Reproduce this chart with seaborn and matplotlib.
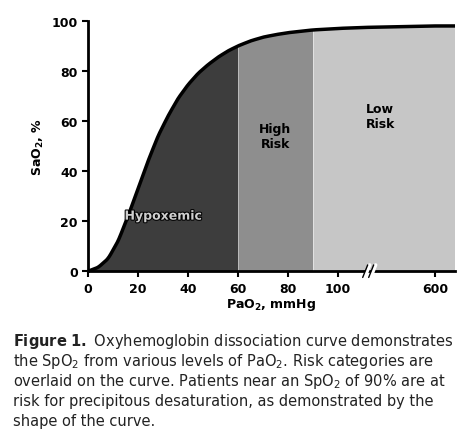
import numpy as np
import pandas as pd
import matplotlib
matplotlib.use("Agg")
import matplotlib.pyplot as plt
import matplotlib.patheffects as pe
import seaborn as sns

pao2 = [0, 4, 8, 12, 16, 20, 24, 28, 32, 36, 40, 44, 48, 52, 56, 60, 65, 70, 75, 80, 90, 100, 110, 600]
sao2 = [0, 1.5, 5, 12, 22, 33, 44, 54, 62, 69, 74.5, 79, 82.5, 85.5, 88, 90, 92, 93.5, 94.5, 95.3, 96.4, 97, 97.4, 98]
tick_values = [0, 20, 40, 60, 80, 100, 600]
regions = [("Hypoxemic", 0, 60, "#3d3d3d"), ("High\nRisk", 60, 90, "#8e8e8e"), ("Low\nRisk", 90, 600, "#c6c6c6")]

def pos(v):
    v = np.asarray(v, dtype=float)
    return np.where(v <= 110, v, 110 + (v - 110) * (29.0 / 490.0))

sns.set_style("ticks")
plt.rcParams['font.family'] = ['DejaVu Sans']
plt.rcParams['xtick.color'] = 'black'
plt.rcParams['ytick.color'] = 'black'
fig = plt.figure(figsize=(4.74, 4.39), dpi=100)
ax = fig.add_axes([0.186, 0.38, 0.774, 0.57])

p = pos(pao2)
dense_v = np.concatenate([np.linspace(0, 110, 500), np.linspace(110, 600, 100)])
dense_p = pos(dense_v)
dense_s = np.interp(dense_p, p, sao2)
# light smoothing
k = np.ones(9) / 9
sm = np.convolve(np.pad(dense_s, 4, mode="edge"), k, mode="valid")
sm[:6] = dense_s[:6]
dense_s = sm
for name, a, b, c in regions:
    m = (dense_p >= pos(a)) & (dense_p <= pos(b))
    ax.fill_between(dense_p[m], 0, dense_s[m], color=c, lw=0)
ax.fill_between([pos(600), 147], 0, 98, color="#c6c6c6", lw=0)
sns.lineplot(x=np.append(dense_p, 147), y=np.append(dense_s, 98), ax=ax, color="black", lw=2.5)

ax.text(30, 22, "Hypoxemic", ha="center", va="center", fontsize=9, fontweight="bold", color="#cfcfcf",
        path_effects=[pe.withStroke(linewidth=1.5, foreground="black")])
ax.text(75, 54, "High\nRisk", ha="center", va="center", fontsize=9, fontweight="bold", color="black")
ax.text(117, 62, "Low\nRisk", ha="center", va="center", fontsize=9, fontweight="bold", color="black")

ax.set_xlim(0, 147)
ax.set_ylim(0, 100)
ax.set_xticks(pos(tick_values))
ax.set_xticklabels([str(t) for t in tick_values], fontweight="bold", fontsize=9)
ax.set_yticks([0, 20, 40, 60, 80, 100])
ax.set_yticklabels(["0", "20", "40", "60", "80", "100"], fontweight="bold", fontsize=9)
for s in ["top", "right"]:
    ax.spines[s].set_visible(False)
for s in ["left", "bottom"]:
    ax.spines[s].set_linewidth(2)
    ax.spines[s].set_color("black")
ax.tick_params(width=1.5, length=4)
ax.set_xlabel(r"PaO$_\mathbf{2}$, mmHg", fontweight="bold", fontsize=9, labelpad=1, color="black")
ax.set_ylabel(r"SaO$_\mathbf{2}$, %", fontweight="bold", fontsize=9, color="black")
for dx in (-1.2, 1.2):
    ax.plot([113 + dx - 1, 113 + dx + 1], [-2.5, 2.5], color="white", lw=2.5, clip_on=False, zorder=5)
    ax.plot([113 + dx - 1.8, 113 + dx + 0.2], [-2.5, 2.5], color="black", lw=1, clip_on=False, zorder=6)

lines = [r"$\bf{Figure\ 1.}$ Oxyhemoglobin dissociation curve demonstrates",
         r"the SpO$_2$ from various levels of PaO$_2$. Risk categories are",
         r"overlaid on the curve. Patients near an SpO$_2$ of 90% are at",
         "risk for precipitous desaturation, as demonstrated by the",
         "shape of the curve."]
for i, t in enumerate(lines):
    fig.text(13 / 474, 1 - (342 + 20 * i) / 439, t, fontsize=10.5, va="center", ha="left", color="#222222")

fig.savefig("out.png", dpi=100)
